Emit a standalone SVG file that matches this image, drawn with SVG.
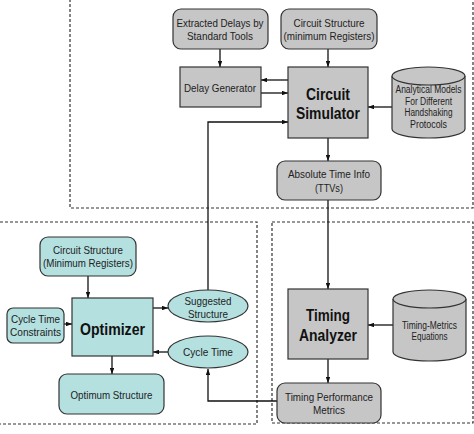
<svg xmlns="http://www.w3.org/2000/svg" width="474" height="434" viewBox="0 0 474 434">
<style>
.bg{fill:#ffffff}
.frame{fill:none;stroke:#333;stroke-width:1.2;stroke-dasharray:3 2}
.g{fill:#c6c6c6;stroke:#333;stroke-width:1.2}
.c{fill:#b4e0e0;stroke:#333;stroke-width:1.2}
text{font-family:"Liberation Sans",Arial,sans-serif;font-size:11px;fill:#222;text-anchor:middle}
.b{font-weight:bold;font-size:16.5px;fill:#111}
.s{font-size:10px}
.conn path{fill:none;stroke:#111;stroke-width:1.3}
</style>
<defs>
<marker id="ah" viewBox="0 0 8 6" refX="8" refY="3" markerWidth="6" markerHeight="4.5" orient="auto" markerUnits="userSpaceOnUse">
<path d="M0,0 L8,3 L0,6 Z" fill="#111"/>
</marker>
</defs>
<rect class="bg" x="0" y="0" width="474" height="434"/>
<g id="frames">
<rect class="frame" x="70" y="-5" width="403" height="213"/>
<rect class="frame" x="-5" y="222" width="262" height="202"/>
<rect class="frame" x="272" y="222" width="201" height="201"/>
</g>
<g class="conn" id="connectors">
<path d="M220,49 V67" marker-end="url(#ah)"/>
<path d="M328,49 V67" marker-end="url(#ah)"/>
<path d="M288,80 H261" marker-end="url(#ah)"/>
<path d="M261,93 H288" marker-end="url(#ah)"/>
<path d="M392,107 H368" marker-end="url(#ah)"/>
<path d="M208,290 V122 H288" marker-end="url(#ah)"/>
<path d="M328,138 V161" marker-end="url(#ah)"/>
<path d="M328,200 V289" marker-end="url(#ah)"/>
<path d="M393,325 H368" marker-end="url(#ah)"/>
<path d="M328,359 V383" marker-end="url(#ah)"/>
<path d="M277,401 H208 V369" marker-end="url(#ah)"/>
<path d="M88,276 V298" marker-end="url(#ah)"/>
<path d="M64,324 H72" marker-end="url(#ah)"/>
<path d="M153,308 H168" marker-end="url(#ah)"/>
<path d="M168,352 H153" marker-end="url(#ah)"/>
<path d="M112,356 V374" marker-end="url(#ah)"/>
</g>
<g id="extracted-delays">
<rect class="g" x="173" y="9" width="95" height="40" rx="8"/>
<text x="220" y="27" textLength="87" lengthAdjust="spacingAndGlyphs">Extracted Delays by</text>
<text x="220" y="40" textLength="66" lengthAdjust="spacingAndGlyphs">Standard Tools</text>
</g>
<g id="circuit-structure-top">
<rect class="g" x="281" y="9" width="96" height="40" rx="8"/>
<text x="329" y="27" textLength="71" lengthAdjust="spacingAndGlyphs">Circuit Structure</text>
<text x="329" y="40" textLength="91" lengthAdjust="spacingAndGlyphs">(minimum Registers)</text>
</g>
<g id="delay-generator">
<rect class="g" x="180" y="67" width="81" height="40"/>
<text x="220" y="92" textLength="72" lengthAdjust="spacingAndGlyphs">Delay Generator</text>
</g>
<g id="circuit-simulator">
<rect class="g" x="288" y="67" width="80" height="71"/>
<text class="b" x="328" y="100" textLength="44" lengthAdjust="spacingAndGlyphs">Circuit</text>
<text class="b" x="328" y="119" textLength="64" lengthAdjust="spacingAndGlyphs">Simulator</text>
</g>
<g id="analytical-models">
<path class="g" d="M392,76 A36.5,9 0 0 1 465,76 V129 A36.5,9 0 0 1 392,129 Z"/>
<path class="g" d="M392,76 A36.5,9 0 0 0 465,76" fill="none"/>
<text class="s" x="428.5" y="93" textLength="66" lengthAdjust="spacingAndGlyphs">Analytical Models</text>
<text class="s" x="428.5" y="104.5" textLength="47" lengthAdjust="spacingAndGlyphs">For Different</text>
<text class="s" x="428.5" y="116" textLength="48" lengthAdjust="spacingAndGlyphs">Handshaking</text>
<text class="s" x="428.5" y="127.5" textLength="37" lengthAdjust="spacingAndGlyphs">Protocols</text>
</g>
<g id="absolute-time">
<rect class="g" x="277" y="161" width="104" height="39" rx="8"/>
<text x="329" y="178" textLength="82" lengthAdjust="spacingAndGlyphs">Absolute Time Info</text>
<text x="329" y="192" textLength="28" lengthAdjust="spacingAndGlyphs">(TTVs)</text>
</g>
<g id="circuit-structure-bottom">
<rect class="c" x="40" y="237" width="96" height="39" rx="8"/>
<text x="88" y="254" textLength="70" lengthAdjust="spacingAndGlyphs">Circuit Structure</text>
<text x="88" y="267" textLength="90" lengthAdjust="spacingAndGlyphs">(Minimum Registers)</text>
</g>
<g id="cycle-time-constraints">
<rect class="c" x="7" y="308" width="57" height="35" rx="6"/>
<text x="35.5" y="323" textLength="49" lengthAdjust="spacingAndGlyphs">Cycle Time</text>
<text x="35.5" y="336" textLength="51" lengthAdjust="spacingAndGlyphs">Constraints</text>
</g>
<g id="optimizer">
<rect class="c" x="72" y="298" width="81" height="58"/>
<text class="b" x="112.5" y="335" textLength="65" lengthAdjust="spacingAndGlyphs">Optimizer</text>
</g>
<g id="suggested-structure">
<ellipse class="c" cx="208" cy="306" rx="40" ry="16"/>
<text x="208" y="305" textLength="47" lengthAdjust="spacingAndGlyphs">Suggested</text>
<text x="208" y="318" textLength="40" lengthAdjust="spacingAndGlyphs">Structure</text>
</g>
<g id="cycle-time">
<ellipse class="c" cx="208" cy="352" rx="40" ry="16"/>
<text x="208" y="356" textLength="50" lengthAdjust="spacingAndGlyphs">Cycle Time</text>
</g>
<g id="optimum-structure">
<rect class="c" x="59" y="374" width="105" height="40" rx="8"/>
<text x="111.5" y="399" textLength="82" lengthAdjust="spacingAndGlyphs">Optimum Structure</text>
</g>
<g id="timing-analyzer">
<rect class="g" x="288" y="289" width="80" height="70"/>
<text class="b" x="328" y="321" textLength="44" lengthAdjust="spacingAndGlyphs">Timing</text>
<text class="b" x="328" y="341" textLength="58" lengthAdjust="spacingAndGlyphs">Analyzer</text>
</g>
<g id="timing-metrics-equations">
<path class="g" d="M393,299 A36.5,9 0 0 1 466,299 V352 A36.5,9 0 0 1 393,352 Z"/>
<path class="g" d="M393,299 A36.5,9 0 0 0 466,299" fill="none"/>
<text class="s" x="429.5" y="328.5" textLength="55" lengthAdjust="spacingAndGlyphs">Timing-Metrics</text>
<text class="s" x="429.5" y="339.5" textLength="36" lengthAdjust="spacingAndGlyphs">Equations</text>
</g>
<g id="timing-performance-metrics">
<rect class="g" x="277" y="383" width="104" height="40" rx="8"/>
<text x="329" y="401" textLength="88" lengthAdjust="spacingAndGlyphs">Timing Performance</text>
<text x="329" y="413.5" textLength="32" lengthAdjust="spacingAndGlyphs">Metrics</text>
</g>
</svg>
